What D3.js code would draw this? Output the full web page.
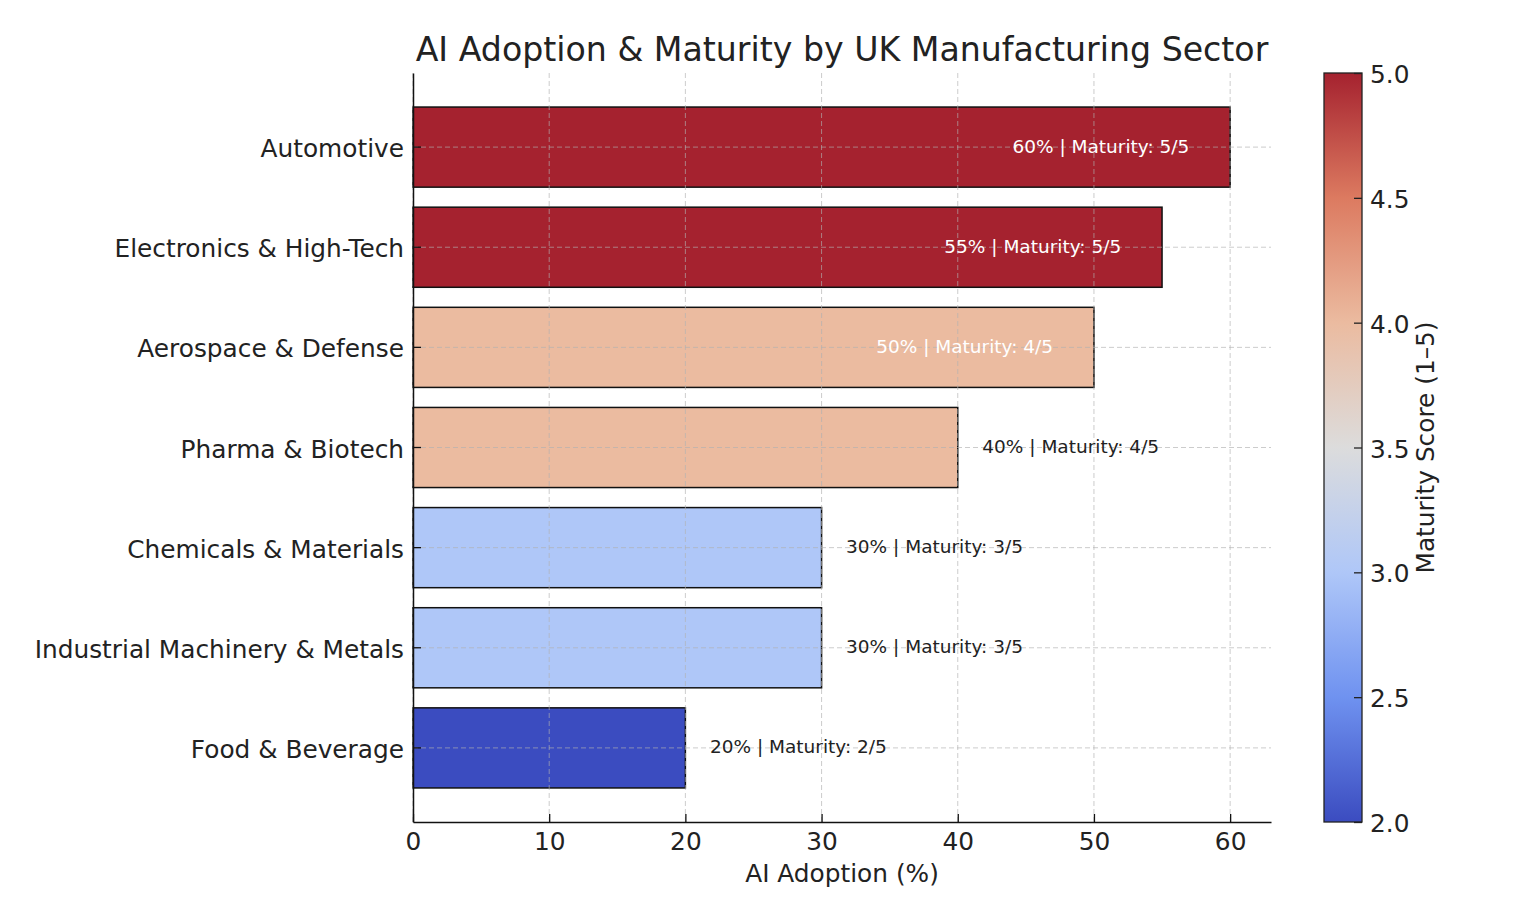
<!DOCTYPE html>
<html>
<head>
<meta charset="utf-8">
<script src="https://cdn.jsdelivr.net/npm/d3@7"></script>
<style>
  html, body { margin: 0; padding: 0; background: #fff; }
  svg { display: block; font-family: "DejaVu Sans", sans-serif; }
</style>
</head>
<body>
<svg id="chart" width="1536" height="910"></svg>
<script>
// ---- data ----
const categories = ["Automotive", "Electronics & High-Tech", "Aerospace & Defense", "Pharma & Biotech",
                    "Chemicals & Materials", "Industrial Machinery & Metals", "Food & Beverage"];
const adoption = [60, 55, 50, 40, 30, 30, 20];
const maturity = [5, 5, 4, 4, 3, 3, 2];
const xTicks = [0, 10, 20, 30, 40, 50, 60];
const cbTicks = [2.0, 2.5, 3.0, 3.5, 4.0, 4.5, 5.0];
const cmapStops = [2.0, 2.5, 3.0, 3.5, 4.0, 4.5, 5.0];
const cmapColors = ["#3b4cc0", "#6f92f0", "#afc7f8", "#dcdcdc", "#ebbba0", "#dc7a60", "#a5222f"];

const title = "AI Adoption & Maturity by UK Manufacturing Sector";
const xLabel = "AI Adoption (%)";
const cbLabel = "Maturity Score (1\u20135)";

// ---- layout ----
const plot = { left: 413, right: 1271, top: 73, bottom: 822 };
const cb = { left: 1324, right: 1362, top: 73, bottom: 822 };
const ink = "#222";
const tickFont = "24.8px";

const svg = d3.select("#chart");

const x = d3.scaleLinear().domain([0, 63]).range([plot.left, plot.right]);
const y = d3.scaleBand().domain(categories).range([plot.top, plot.bottom])
  .paddingInner(0.2).paddingOuter(0.34);
const color = d3.scaleLinear().domain(cmapStops).range(cmapColors).interpolate(d3.interpolateRgb);

const data = categories.map((c, i) => ({ cat: c, val: adoption[i], mat: maturity[i] }));

// bars
svg.append("g").selectAll("rect").data(data).join("rect")
  .attr("x", x(0))
  .attr("y", d => y(d.cat))
  .attr("width", d => x(d.val) - x(0))
  .attr("height", y.bandwidth())
  .attr("fill", d => color(d.mat))
  .attr("stroke", "#111")
  .attr("stroke-width", 1.5);

// grid (above bars)
const grid = svg.append("g").attr("stroke", "#b0b0b0").attr("stroke-opacity", 0.65)
  .attr("stroke-width", 1).attr("stroke-dasharray", "5,3");
grid.selectAll("line.v").data(xTicks).join("line").attr("class", "v")
  .attr("x1", d => x(d)).attr("x2", d => x(d))
  .attr("y1", plot.top).attr("y2", plot.bottom);
grid.selectAll("line.h").data(categories).join("line").attr("class", "h")
  .attr("x1", plot.left).attr("x2", plot.right)
  .attr("y1", d => y(d) + y.bandwidth() / 2).attr("y2", d => y(d) + y.bandwidth() / 2);

// axes (inward ticks)
const xAxis = d3.axisBottom(x).tickValues(xTicks).tickFormat(d3.format("d"))
  .tickSizeInner(-8).tickSizeOuter(0).tickPadding(10);
const gx = svg.append("g").attr("transform", `translate(0,${plot.bottom})`).call(xAxis);
gx.select(".domain").attr("stroke", "#111").attr("stroke-width", 1.5);
gx.selectAll(".tick line").attr("stroke", "#111").attr("stroke-width", 1.3);
gx.selectAll(".tick text").attr("font-size", tickFont).attr("fill", ink)
  .attr("font-family", "DejaVu Sans");

const yAxis = d3.axisLeft(y).tickSizeInner(-8).tickSizeOuter(0).tickPadding(9);
const gy = svg.append("g").attr("transform", `translate(${plot.left},0)`).call(yAxis);
gy.select(".domain").attr("stroke", "#111").attr("stroke-width", 1.5);
gy.selectAll(".tick line").attr("stroke", "#111").attr("stroke-width", 1.3);
gy.selectAll(".tick text").attr("font-size", tickFont).attr("fill", ink)
  .attr("font-family", "DejaVu Sans").attr("dy", null).attr("y", 10);

// bar labels
svg.append("g").selectAll("text").data(data).join("text")
  .attr("x", d => d.val > 45 ? x(d.val - 3) : x(d.val + 1.8))
  .attr("y", d => y(d.cat) + y.bandwidth() / 2 + 5.5)
  .attr("text-anchor", d => d.val > 45 ? "end" : "start")
  .attr("fill", d => d.val > 45 ? "#fff" : ink)
  .attr("font-size", "18.5px")
  .text(d => `${d.val}% | Maturity: ${d.mat}/5`);

// title & x label
svg.append("text").attr("x", (plot.left + plot.right) / 2).attr("y", 61)
  .attr("text-anchor", "middle").attr("font-size", "33.2px").attr("fill", ink).text(title);
svg.append("text").attr("x", (plot.left + plot.right) / 2).attr("y", 882)
  .attr("text-anchor", "middle").attr("font-size", tickFont).attr("fill", ink).text(xLabel);

// colorbar
const cbScale = d3.scaleLinear().domain([2, 5]).range([cb.bottom, cb.top]);
const defs = svg.append("defs");
const grad = defs.append("linearGradient").attr("id", "cbgrad")
  .attr("x1", 0).attr("y1", 1).attr("x2", 0).attr("y2", 0);
grad.selectAll("stop").data(cmapStops).join("stop")
  .attr("offset", d => (d - 2) / 3)
  .attr("stop-color", d => color(d));
svg.append("rect").attr("x", cb.left).attr("y", cb.top)
  .attr("width", cb.right - cb.left).attr("height", cb.bottom - cb.top)
  .attr("fill", "url(#cbgrad)").attr("stroke", "#222").attr("stroke-width", 1.3);

const cbAxis = d3.axisRight(cbScale).tickValues(cbTicks).tickFormat(d3.format(".1f"))
  .tickSizeInner(-8).tickSizeOuter(0).tickPadding(8);
const gcb = svg.append("g").attr("transform", `translate(${cb.right},0)`).call(cbAxis);
gcb.select(".domain").remove();
gcb.selectAll(".tick line").attr("stroke", "#222").attr("stroke-width", 1.3);
gcb.selectAll(".tick text").attr("font-size", tickFont).attr("fill", ink)
  .attr("font-family", "DejaVu Sans").attr("dy", null).attr("y", 9.5);

svg.append("text")
  .attr("transform", `translate(1433.5,${(cb.top + cb.bottom) / 2}) rotate(-90)`)
  .attr("text-anchor", "middle").attr("font-size", tickFont).attr("fill", ink).text(cbLabel);
</script>
</body>
</html>
